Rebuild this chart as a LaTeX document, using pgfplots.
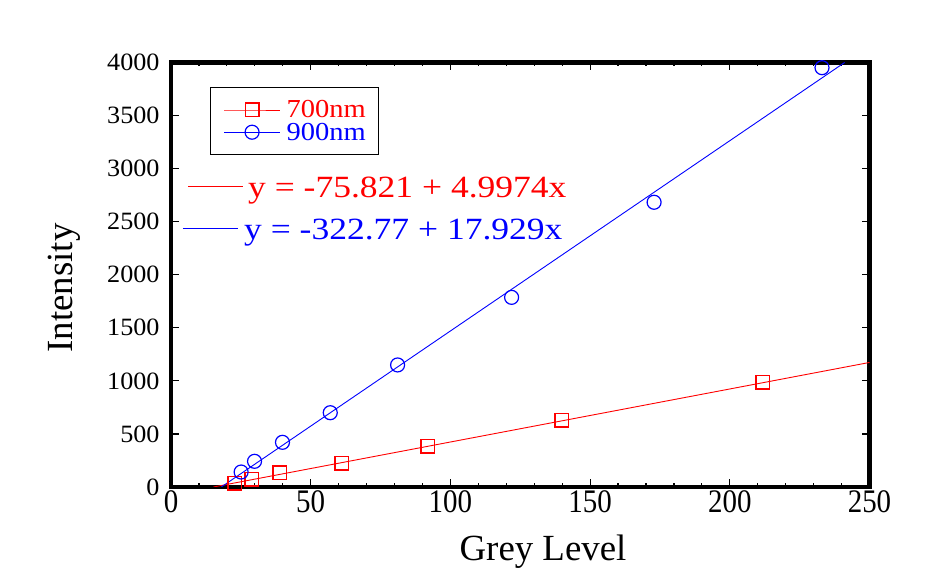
\documentclass[border=0pt]{standalone}
\usepackage{fontspec}
\setmainfont{Liberation Serif}
\newfontfamily\xtickfont[FakeStretch=0.88]{Liberation Serif}
\newfontfamily\ytickfont[FakeStretch=1.05]{Liberation Serif}
\newfontfamily\eqfont[FakeStretch=1.15]{Liberation Serif}
\newfontfamily\legfont[FakeStretch=1.1]{Liberation Serif}
\usepackage{pgfplots}
\pgfplotsset{compat=1.18}

% measured intensity against grey level
\pgfplotstableread{
x y
22.9 35
28.9 75
39.0 132
61.1 226
91.9 383
139.9 628
211.8 986
}\nmseven
\pgfplotstableread{
x y
25.1 141
29.9 242
39.9 421
57.0 700
81.1 1150
121.9 1787
172.9 2683
233.0 3951
}\nmnine

\begin{document}
\begin{tikzpicture}[x=1bp,y=1bp]
\path[use as bounding box] (-171,-95) rectangle (775,487);
\begin{axis}[
  at={(0,0)}, anchor=south west,
  scale only axis, width=698.5bp, height=424.5bp,
  xmin=0, xmax=250, ymin=0, ymax=4000,
  xtick={0,50,...,250}, ytick={0,500,...,4000},
  minor x tick num=4,
  tick align=inside,
  major tick length=8bp, minor tick length=4bp,
  tick style={black, line width=1.2bp},
  axis line style={line width=4.5bp},
  /pgf/number format/assume math mode=true,
  /pgf/number format/1000 sep={},
  xticklabel style={font=\fontsize{33}{33}\xtickfont},
  yticklabel style={font=\fontsize{25}{25}\ytickfont, xshift=-8bp},
  xlabel={Grey Level}, ylabel={Intensity},
  label style={font=\fontsize{37}{37}\selectfont},
  xlabel style={at={(axis description cs:0.5326,-0.172)}, anchor=base},
  ylabel style={at={(axis description cs:-0.1403,0.469)}, anchor=base},
  legend cell align=left,
  legend image code/.code={%
    \draw[#1, sharp plot, mark repeat=2, mark phase=2]
      plot coordinates {(0bp,0bp) (28bp,0bp) (56bp,0bp)};},
  legend style={at={(axis description cs:0.0558,0.9423)}, anchor=north west,
    draw=black, line width=1.3bp, inner xsep=13bp, inner ysep=13bp,
    font=\fontsize{26}{26}\legfont, row sep=3.5bp,
    nodes={inner sep=0bp},
    /tikz/every odd column/.append style={column sep=6bp}},
]
\addplot[red, only marks, mark=square, mark size=6.8bp, line width=0.9bp,
  mark options={line width=1.4bp}] table[x=x, y=y] {\nmseven};
\addlegendentry{\textcolor{red}{700nm}}
\addplot[blue, only marks, mark=o, mark size=7bp, line width=0.9bp,
  mark options={line width=1.2bp}] table[x=x, y=y] {\nmnine};
\addlegendentry{\textcolor{blue}{900nm}}
% least-squares lines, drawn from where they leave y = 0
\addplot[red, line width=0.9bp, forget plot] coordinates {(15.172,0) (250,1173.53)};
\addplot[blue, line width=0.9bp, forget plot] coordinates {(18.003,0) (241.10,4000)};
\end{axis}
% fit equations
\draw[red, line width=0.9bp] (17,301) -- (72,301);
\node[anchor=base west, inner sep=0pt, text=red, font=\fontsize{31}{31}\eqfont]
  at (77,289) {y = -75.821 + 4.9974x};
\draw[blue, line width=0.9bp] (12,259) -- (67,259);
\node[anchor=base west, inner sep=0pt, text=blue, font=\fontsize{31}{31}\eqfont]
  at (73,247) {y = -322.77 + 17.929x};
\end{tikzpicture}
\end{document}
